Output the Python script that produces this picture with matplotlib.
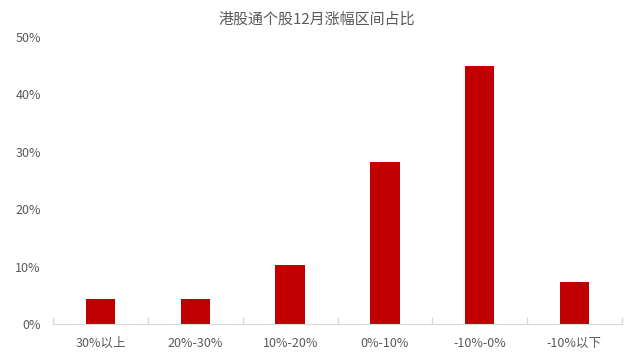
import matplotlib
matplotlib.use("Agg")
import matplotlib.pyplot as plt
import numpy as np

plt.rcParams['font.family'] = ['Noto Sans CJK SC', 'DejaVu Sans']

# 数据
categories = ["30%以上", "20%-30%", "10%-20%", "0%-10%", "-10%-0%", "-10%以下"]
shares = [4.35, 4.35, 10.4, 28.2, 45.0, 7.4]
yticks = [0, 10, 20, 30, 40, 50]

fig = plt.figure(figsize=(6.37, 3.63), dpi=100)
ax = fig.add_axes([0.0837, 0.1066, 0.8923, 0.7916])

x = np.arange(len(categories))
ax.bar(x, shares, width=0.31, color="#C00000", zorder=2)

ax.set_xlim(-0.5, len(categories) - 0.5)
ax.set_ylim(0, 50)
ax.set_yticks(yticks)
ax.set_yticklabels([f"{v}%" for v in yticks], fontsize=9, color="#595959")
ax.set_xticks(x)
ax.set_xticklabels(categories, fontsize=9, color="#595959")
ax.tick_params(axis="x", length=0, pad=9)
ax.tick_params(axis="y", length=0, pad=9)

# 类别分隔刻度
ax.set_xticks(np.arange(-0.5, len(categories)), minor=True)
ax.tick_params(axis="x", which="minor", direction="in", length=5, color="#D9D9D9", width=1)

for s in ["top", "right", "left"]:
    ax.spines[s].set_visible(False)
ax.spines["bottom"].set_color("#D9D9D9")

fig.text(0.497, 0.945, "港股通个股12月涨幅区间占比", fontsize=10.8, color="#595959",
         ha="center", va="center")

fig.savefig("out.png", dpi=100)
